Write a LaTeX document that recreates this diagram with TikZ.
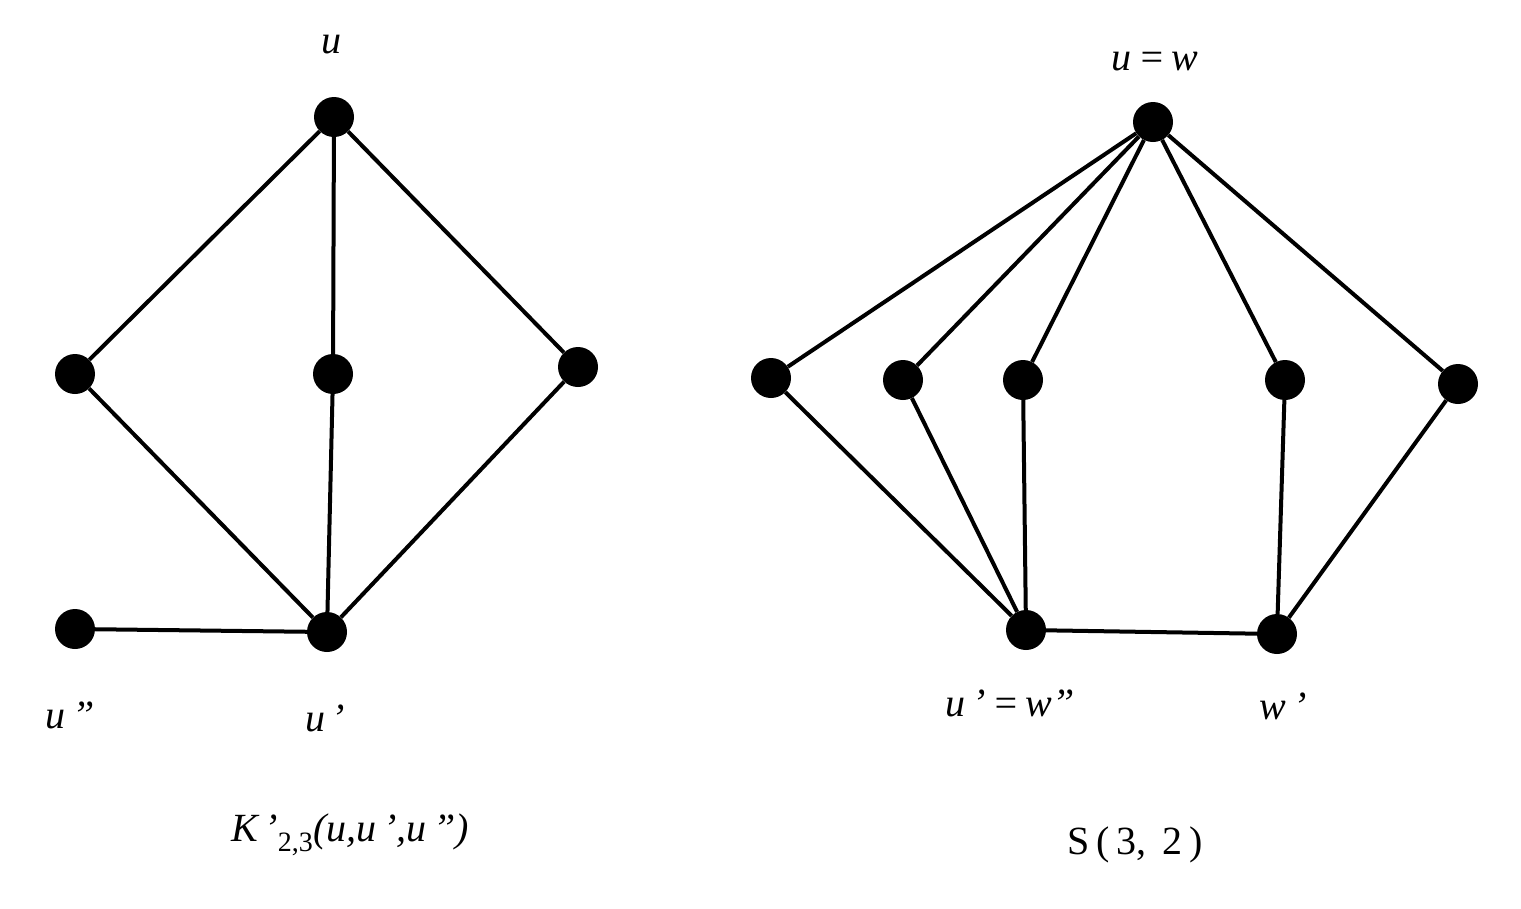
\documentclass[tikz,border=0pt]{standalone}
\usepackage{fontspec}
\setmainfont{Liberation Serif}
\begin{document}
\begin{tikzpicture}[x=1pt,y=-1pt,
  dot/.style={circle,fill=black,inner sep=0pt,minimum size=40pt},
  lbl/.style={font=\fontsize{40}{44}\selectfont\itshape},
  edge/.style={line width=4pt}]
\useasboundingbox (0,0) rectangle (1521,908);
\node[dot] (a) at (334,117) {};
\node[dot] (b) at (75,374) {};
\node[dot] (c) at (333,374) {};
\node[dot] (d) at (578,367) {};
\node[dot] (e) at (75,629) {};
\node[dot] (f) at (327,632) {};
\foreach \s/\t in {a/b,a/c,a/d,b/f,c/f,d/f,e/f} \draw[edge] (\s)--(\t);
\node[lbl] (la) at (331,45) {u};
\node[lbl] (le) at (70,715) {u\,"};
\node[lbl] (lf) at (325,718) {u\,'};
\node[lbl] (cap1) at (350,835) {K\,'\textsubscript{\upshape 2,3}(u,u\,',u\,")};
\node[dot] (T) at (1153,122) {};
\node[dot] (p1) at (771,378) {};
\node[dot] (p2) at (903,380) {};
\node[dot] (p3) at (1023,380) {};
\node[dot] (p4) at (1285,380) {};
\node[dot] (p5) at (1458,384) {};
\node[dot] (B) at (1026,630) {};
\node[dot] (W) at (1277,634) {};
\foreach \t in {p1,p2,p3,p4,p5} \draw[edge] (T)--(\t);
\foreach \s/\t in {p1/B,p2/B,p3/B,p4/W,p5/W,B/W} \draw[edge] (\s)--(\t);
\node[lbl] (lT) at (1155,62) {u\,=\,w};
\node[lbl] (lB) at (1010,703) {u\,'\,=\,w"};
\node[lbl] (lW) at (1283,706) {w\,'};
\node[font=\fontsize{40}{44}\selectfont] (cap2) at (1135,845) {S\,(\,3,\, 2\,)};
\end{tikzpicture}
\end{document}
